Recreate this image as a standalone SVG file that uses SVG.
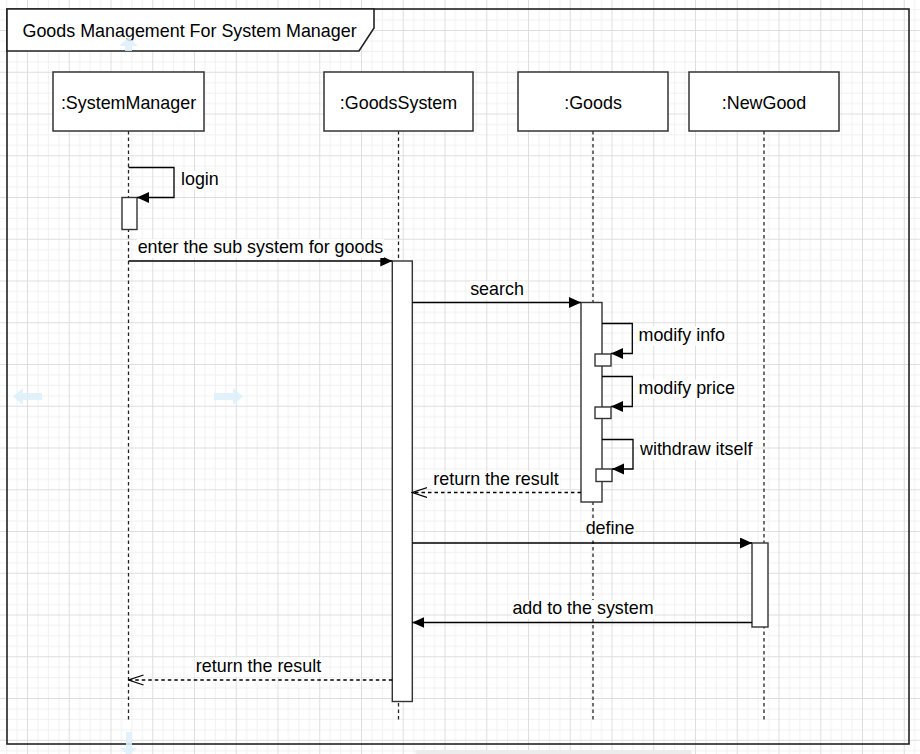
<svg xmlns="http://www.w3.org/2000/svg" width="920" height="754" viewBox="0 0 920 754">
<style>
.t{font-family:"Liberation Sans",Arial,sans-serif;font-size:17.9px;fill:#000}
.m{text-anchor:middle}
.box{fill:#fff;stroke:#333;stroke-width:1.5}
.act{fill:#fff;stroke:#333;stroke-width:1.4}
.life{stroke:#222;stroke-width:1.3;stroke-dasharray:3.5 3;fill:none}
.msg{stroke:#000;stroke-width:1.3;fill:none}
.dash{stroke:#000;stroke-width:1.3;fill:none;stroke-dasharray:3.5 3}
.hint{fill:#dcf0fc;opacity:.85}
.lb{fill:#fff}
</style>
<defs>
<pattern id="grid" patternUnits="userSpaceOnUse" x="27" y="30" width="41.75" height="41.75">
<path d="M10.94,0V41.75M21.37,0V41.75M31.81,0V41.75M0,10.94H41.75M0,21.37H41.75M0,31.81H41.75" stroke="#f1f1f1" stroke-width="1"/>
<path d="M0.5,0V41.75M0,0.5H41.75" stroke="#dedede" stroke-width="1"/>
</pattern>
<marker id="fill" markerUnits="userSpaceOnUse" markerWidth="13" markerHeight="12" refX="12" refY="5.5" orient="auto">
<path d="M0,0L12,5.5L0,11Z" fill="#000"/>
</marker>
<marker id="open" markerUnits="userSpaceOnUse" markerWidth="16" markerHeight="12" refX="15" refY="5.5" orient="auto">
<path d="M0,0.5L15,5.5L0,10.5" fill="none" stroke="#000" stroke-width="1.3"/>
</marker>
</defs>
<rect width="920" height="754" fill="#fff"/>
<rect width="920" height="754" fill="url(#grid)"/>
<rect x="415" y="750" width="277" height="4" rx="2" fill="#ececec"/>

<g id="frame">
<rect x="7" y="9" width="902" height="735" fill="none" stroke="#222" stroke-width="1.6"/>
<path d="M7,9H374V28L359,51H7Z" fill="#fff" stroke="#222" stroke-width="1.6"/>
<text class="t" x="22.5" y="36.5">Goods Management For System Manager</text>
</g>

<g id="hints">
<path class="hint" d="M13,396.5L23,388V393H42V400H23V405Z"/>
<path class="hint" d="M243,396.5L233,388V393H214V400H233V405Z"/>
<path class="hint" d="M128.5,37L138,46H132V51H125V46H119Z"/>
<path class="hint" d="M126,732H132V748H137L128.5,756L120,748H126Z"/>
</g>

<g id="lifeline-systemmanager">
<path class="life" d="M128.5,131V720"/>
<rect class="box" x="53" y="72" width="151" height="59"/>
<text class="t m" x="128.5" y="108.5">:SystemManager</text>
<rect class="act" x="122" y="197.5" width="15" height="32"/>
</g>
<g id="lifeline-goodssystem">
<path class="life" d="M398.5,131V722"/>
<rect class="box" x="324" y="72" width="149" height="59"/>
<text class="t m" x="398.5" y="108.5">:GoodsSystem</text>
<rect class="act" x="392.3" y="261" width="20" height="440.5"/>
</g>
<g id="lifeline-goods">
<path class="life" d="M593,131V722"/>
<rect class="box" x="518" y="72" width="150" height="59"/>
<text class="t m" x="593" y="108.5">:Goods</text>
<rect class="act" x="581" y="302.5" width="21" height="199.5"/>
<rect class="act" x="595" y="354" width="16" height="12"/>
<rect class="act" x="595" y="407" width="16" height="11.5"/>
<rect class="act" x="596" y="469" width="16" height="12.5"/>
</g>
<g id="lifeline-newgood">
<path class="life" d="M764,131V722"/>
<rect class="box" x="689" y="72" width="150" height="59"/>
<text class="t m" x="764" y="108.5">:NewGood</text>
<rect class="act" x="752" y="543" width="16" height="84"/>
</g>

<g id="connectors">
<path class="msg" d="M128.5,167.5H174V197.5H137" marker-end="url(#fill)"/>
<rect class="lb" x="180" y="171" width="39" height="19"/>
<text class="t" x="181" y="185">login</text>
<path class="msg" d="M128.5,261H392.3" marker-end="url(#fill)"/>
<rect class="lb" x="137" y="239" width="247" height="19"/>
<text class="t m" x="260.5" y="253">enter the sub system for goods</text>
<path class="msg" d="M412.3,302.5H581" marker-end="url(#fill)"/>
<rect class="lb" x="470" y="281" width="55" height="19"/>
<text class="t m" x="497" y="295">search</text>
<path class="msg" d="M602,323.5H632.3V353.5H611" marker-end="url(#fill)"/>
<rect class="lb" x="637.5" y="326.5" width="89" height="19"/>
<text class="t" x="638.5" y="340.5">modify info</text>
<path class="msg" d="M602,376.5H632.3V406.5H611" marker-end="url(#fill)"/>
<rect class="lb" x="637.5" y="379.5" width="99" height="19"/>
<text class="t" x="638.5" y="393.5">modify price</text>
<path class="msg" d="M602,439.5H633V469H612" marker-end="url(#fill)"/>
<rect class="lb" x="639" y="441" width="115" height="19"/>
<text class="t" x="640" y="455">withdraw itself</text>
<path class="dash" d="M581,492.5H412.3" marker-end="url(#open)"/>
<rect class="lb" x="432" y="471" width="128" height="19"/>
<text class="t m" x="496" y="485">return the result</text>
<path class="msg" d="M412.3,543H752" marker-end="url(#fill)"/>
<rect class="lb" x="585" y="520" width="50" height="19"/>
<text class="t m" x="610" y="534">define</text>
<path class="msg" d="M752,622.5H412.3" marker-end="url(#fill)"/>
<rect class="lb" x="512" y="600" width="143" height="19"/>
<text class="t m" x="583" y="614">add to the system</text>
<path class="dash" d="M392.3,680H128.5" marker-end="url(#open)"/>
<rect class="lb" x="194.5" y="657.5" width="128" height="19"/>
<text class="t m" x="258.5" y="671.5">return the result</text>
</g>
</svg>
